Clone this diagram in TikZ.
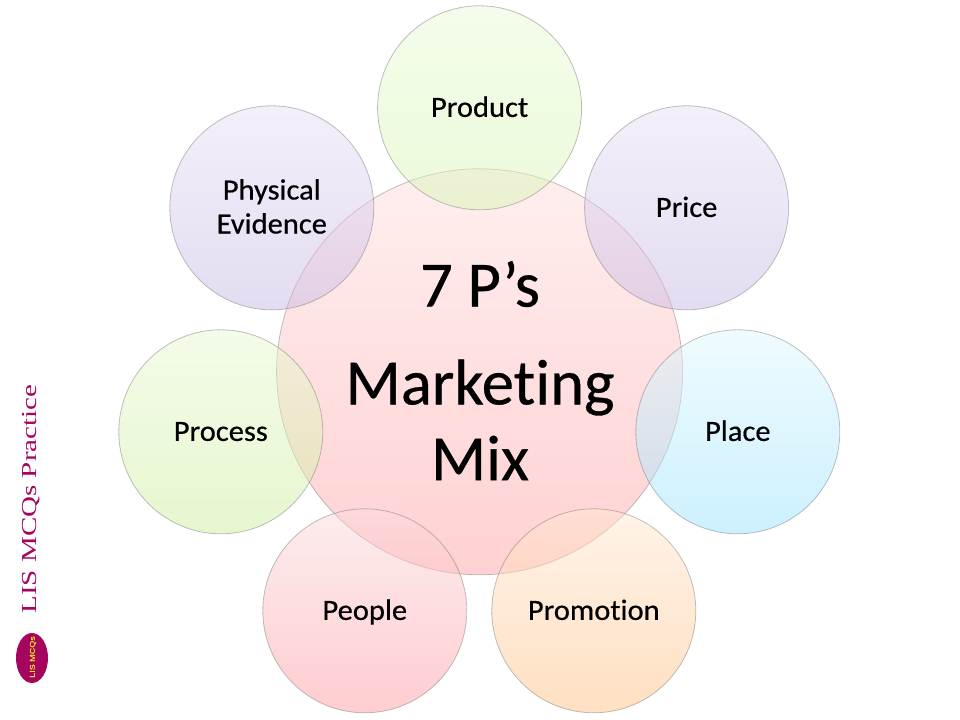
\documentclass[tikz,border=0pt]{standalone}
\usepackage{fontspec}
\setmainfont[Ligatures=NoCommon,FakeBold=0.5,FakeStretch=1.04]{Carlito}
\newfontfamily\bigfont[Ligatures=NoCommon,FakeBold=0.5]{Carlito}
\newfontfamily\logofont[FakeStretch=1.36]{Liberation Serif}
\newfontfamily\logosmallfont[FakeStretch=1.3,FakeBold=0.6]{Liberation Sans}
\usetikzlibrary{shapes.geometric}
\definecolor{logopink}{HTML}{A5055F}
\definecolor{logoyellow}{HTML}{F2E21A}
\definecolor{redtop}{HTML}{FFDFDF}
\definecolor{redbot}{HTML}{FFA3A5}
\definecolor{greentop}{HTML}{EAFBD8}
\definecolor{greenbot}{HTML}{D8F5B4}
\definecolor{violettop}{HTML}{E8E0F5}
\definecolor{violetbot}{HTML}{C9BAE4}
\definecolor{bluetop}{HTML}{E0F7FD}
\definecolor{bluebot}{HTML}{99E3FD}
\definecolor{orangetop}{HTML}{FFE8D2}
\definecolor{orangebot}{HTML}{FFC185}
\definecolor{pinktop}{HTML}{FBDBDD}
\definecolor{pinkbot}{HTML}{FF9BA1}
\definecolor{limetop}{HTML}{E9F8D4}
\definecolor{limebot}{HTML}{CDEF9E}
\tikzset{
  x=0.75pt,y=-0.75pt,
  bub/.style 2 args={circle,inner sep=0pt,minimum size=153pt,align=center,
    shade,shading angle=0,top color=#1,bottom color=#2,
    fill opacity=0.5,draw=black!55,draw opacity=0.45,line width=0.6pt,text opacity=1,text=black,
    font=\fontsize{22}{25.5}\selectfont},
  oneline/.style={text height=16.8pt,text depth=3.2pt},
  twolines/.style={text height=17.5pt,text depth=0pt},
  bigbub/.style={bub={redtop}{redbot},minimum size=304.5pt},
  bigtext/.style={inner sep=0pt,text=black,font=\bigfont\fontsize{48.5}{54}\selectfont},
  logotext/.style={inner sep=0pt,rotate=90,text=logopink,font=\logofont\fontsize{16}{18}\selectfont},
  logodisc/.style={ellipse,fill=logopink,minimum width=24pt,minimum height=37.5pt,inner sep=0pt},
  logosmall/.style={inner sep=0pt,rotate=90,text=logoyellow,font=\logosmallfont\fontsize{5.2}{6}\selectfont}
}
\begin{document}
\begin{tikzpicture}
\useasboundingbox (0,0) rectangle (960,720);
\node[bigbub] (mix) at (479.6,371.8) {};
\node[bub={greentop}{greenbot},oneline] (product) at (479.6,107.8) {Product};
\node[bub={violettop}{violetbot},oneline] (price) at (686.6,207.8) {Price};
\node[bub={bluetop}{bluebot},oneline] (place) at (737.8,431.8) {Place};
\node[bub={orangetop}{orangebot},oneline] (promotion) at (593.8,610.8) {Promotion};
\node[bub={pinktop}{pinkbot},oneline] (people) at (364.8,610.8) {People};
\node[bub={limetop}{limebot},oneline] (process) at (220.8,431.8) {Process};
\node[bub={violettop}{violetbot}] (physical) at (271.8,207.8) {\raisebox{2.2pt}{Physical}\\\raisebox{2.2pt}{Evidence}};
\node[bigtext] (seven) at (480,284) {7 P’s};
\node[bigtext] (marketing) at (480,387.5) {Marketing};
\node[bigtext] (mixword) at (480,458) {Mix};
\node[logotext] (practice) at (31,499) {LIS MCQs Practice};
\node[logodisc] (disc) at (32,658) {};
\node[logosmall] (discword) at (33,657) {LIS MCQs};
\end{tikzpicture}
\end{document}
